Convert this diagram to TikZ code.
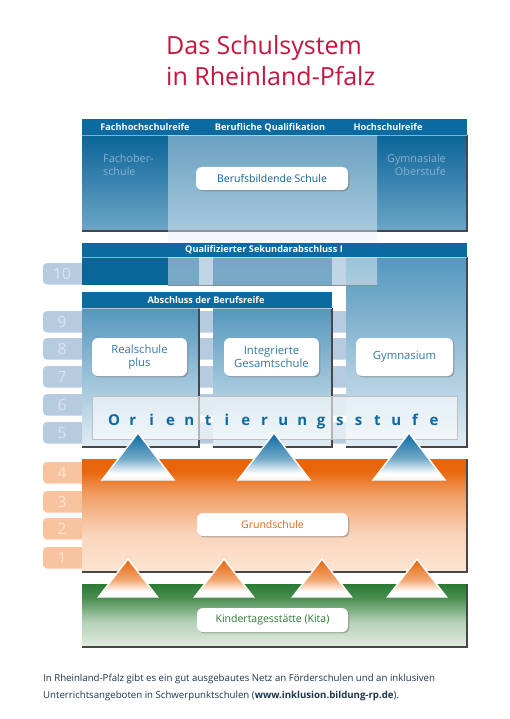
\documentclass[tikz,border=0pt]{standalone}
\usepackage{fontspec}
\setmainfont{Open Sans}
\usetikzlibrary{shadows}
\definecolor{titlered}{HTML}{C4173F}
\definecolor{hdrblue}{HTML}{0B6AA1}
\definecolor{txtblue}{HTML}{0F5F96}
\definecolor{stripeblue}{HTML}{B7CBE0}
\definecolor{numblue}{HTML}{DCE6F0}
\definecolor{stripeor}{HTML}{F8C4A0}
\definecolor{numor}{HTML}{FDE4D2}
\definecolor{tripeach}{HTML}{F9D3B5}
\definecolor{trigreen}{HTML}{E2ECDF}
\definecolor{orangetop}{HTML}{E8650A}
\definecolor{greentop}{HTML}{2A7A33}
\definecolor{pale}{HTML}{8DB0CF}
\definecolor{foot}{HTML}{1C3550}
\definecolor{grtext}{HTML}{E0661A}
\definecolor{kitext}{HTML}{2D7A35}
\pgfdeclareverticalshading{bluetri}{100bp}{color(0bp)=(tripeach); color(25bp)=(tripeach); color(28bp)=(white); color(32bp)=(white); color(48bp)=(hdrblue!58); color(75bp)=(hdrblue); color(100bp)=(hdrblue)}
\pgfdeclareverticalshading{orangetri}{100bp}{color(0bp)=(trigreen); color(25bp)=(trigreen); color(28bp)=(white); color(32bp)=(white); color(48bp)=(orangetop!58); color(75bp)=(orangetop); color(100bp)=(orangetop)}
\pgfdeclareverticalshading{orangeblock}{100bp}{color(0bp)=(white); color(25bp)=(numor); color(42bp)=(orangetop!28); color(60bp)=(orangetop!65); color(70bp)=(orangetop); color(75bp)=(orangetop); color(100bp)=(orangetop)}
\pgfdeclareverticalshading{greenblock}{100bp}{color(0bp)=(trigreen); color(25bp)=(trigreen); color(45bp)=(greentop!35); color(64bp)=(greentop!85); color(75bp)=(greentop); color(100bp)=(greentop)}
\begin{document}
\begin{tikzpicture}[x=1pt,y=-1pt,
  hdr/.style={font=\fontsize{9.2}{10}\selectfont\bfseries, text=white, inner sep=0},
  shadowline/.style={draw=black!72, line width=1.3pt},
  colshade/.style={top color=hdrblue!70!white, bottom color=hdrblue!12!white},
  topshade/.style={top color=hdrblue!95!black, bottom color=hdrblue!60!white},
  wbox/.style={fill=white, rounded corners=6pt, inner sep=0, align=center,
     font=\fontsize{10.5}{12.5}\selectfont,
     drop shadow={shadow xshift=1.3pt, shadow yshift=-1.3pt, opacity=0.5, fill=black!55}},
  bigbox/.style={wbox, font=\fontsize{11.3}{13.5}\selectfont, minimum height=38pt},
  num/.style={font=\fontsize{15.5}{15.5}\selectfont, inner sep=0},
  pale/.style={font=\fontsize{10.8}{13}\selectfont, text=pale, inner sep=0},
  tri/.style={draw=white, line width=1.4pt, line join=miter,
     drop shadow={shadow xshift=1pt, shadow yshift=-1pt, opacity=0.35, fill=black!60}}
]
\useasboundingbox (0,0) rectangle (510,719);
\fill[white] (0,0) rectangle (510,719);

% title
\node[anchor=base west, inner sep=0, text=titlered, font=\fontsize{25}{30}\selectfont] (t1) at (166,55) {Das Schulsystem};
\node[anchor=base west, inner sep=0, text=titlered, font=\fontsize{25}{30}\selectfont] (t2) at (166,86) {in Rheinland-Pfalz};

% blue grade stripes
\foreach \yy/\n in {263/10,311/9,338/8,366/7,394/6,422/5}{
  \fill[stripeblue, rounded corners=4pt] (43,\yy) rectangle (467,\yy+21.5);
  \node[num, text=numblue] (n\n) at (62,\yy+11) {\n};
}
% orange grade stripes
\foreach \yy/\n in {462/4,491/3,518/2,547/1}{
  \fill[stripeor, rounded corners=4pt] (43,\yy) rectangle (100,\yy+21.5);
  \node[num, text=numor] (n\n) at (62,\yy+11) {\n};
}

% upper block
\shade[topshade] (82,135) rectangle (467,231);
\draw[shadowline] (82,231) -- (467,231) -- (467,135);

% row 10 dark blocks
\fill[hdrblue!95!black] (82,257) rectangle (199,285);
\fill[hdrblue!95!black] (213,257) rectangle (332,285);
\fill[stripeblue!80!hdrblue] (199,257) rectangle (213,285);
\fill[stripeblue!80!hdrblue] (332,257) rectangle (346,285);

% columns
\shade[colshade] (82,308) rectangle (199,447);
\draw[shadowline] (82,447) -- (199,447) -- (199,308);
\shade[colshade] (213,308) rectangle (332,447);
\draw[shadowline] (213,447) -- (332,447) -- (332,308);
\shade[colshade] (346,257) rectangle (467,447);
\draw[shadowline] (346,447) -- (467,447) -- (467,257);

% light overlay (Berufsbildende Schule)
\shade[top color=hdrblue!18!white, bottom color=hdrblue!5!white, opacity=0.47] (168,119) rectangle (377,285);
\draw[draw=black!45, line width=1pt] (168,285) -- (377,285);

% bars
\fill[hdrblue] (82,119) rectangle (467,135);
\draw[white, opacity=0.5, line width=0.6pt] (82,135) -- (467,135);
\fill[hdrblue] (82,243) rectangle (467,257);
\draw[white, opacity=0.5, line width=0.6pt] (82,257) -- (467,257);
\fill[hdrblue] (82,292) rectangle (332,308);
\draw[white, opacity=0.5, line width=0.6pt] (82,308) -- (332,308);

\node[hdr] (fhr) at (145,127.5) {Fachhochschulreife};
\node[hdr] (bq) at (270,127.5) {Berufliche Qualifikation};
\node[hdr] (hsr) at (388,127.5) {Hochschulreife};
\node[hdr] (qsa) at (264,250) {Qualifizierter Sekundarabschluss I};
\node[hdr] (abr) at (206,300) {Abschluss der Berufsreife};

\node[pale, anchor=base west, align=left] (fos) at (103,176) {Fachober-\\schule};
\node[pale, anchor=base east, align=right] (gos) at (446,176) {Gymnasiale\\Oberstufe};

% Orientierungsstufe
\path[fill=white, fill opacity=0.6, draw=black!25, line width=0.8pt] (92,396) rectangle (457,439);
\foreach \ch [count=\i from 0] in {O,r,i,e,n,t,i,e,r,u,n,g,s,s,t,u,f,e}{
  \node[anchor=base, inner sep=0, text=hdrblue, font=\fontsize{15}{15}\selectfont\bfseries] (o\i) at ({114+18.82*\i},425) {\ch};
}

% orange and green blocks
\shade[shading=orangeblock] (82,459) rectangle (467,572);
\draw[shadowline] (82,572) -- (467,572) -- (467,459);
\shade[shading=greenblock] (82,584) rectangle (467,647);
\draw[shadowline] (82,647) -- (467,647) -- (467,584);

% triangles
\foreach \c in {138,274,409}{
  \shadedraw[tri, shading=bluetri] (\c,433) -- (\c+36,480) -- (\c-36,480) -- cycle;
}
\foreach \c in {128,224,322,417}{
  \shadedraw[tri, shading=orangetri] (\c,559) -- (\c+29.5,597) -- (\c-29.5,597) -- cycle;
}

% white boxes
\node[wbox, text=txtblue, minimum width=152pt, minimum height=23pt] (bbs) at (272,178.5) {Berufsbildende Schule};
\node[bigbox, text=txtblue!85!white, minimum width=95pt] (rsp) at (139.5,357) {Realschule\\plus};
\node[bigbox, text=txtblue!85!white, minimum width=95pt] (igs) at (271.5,357) {Integrierte\\Gesamtschule};
\node[bigbox, text=txtblue!85!white, minimum width=97pt] (gym) at (404.5,357) {Gymnasium};
\node[wbox, text=grtext, minimum width=151pt, minimum height=23pt] (gs) at (272.5,524.5) {Grundschule};
\node[wbox, text=kitext, minimum width=151pt, minimum height=24pt] (kita) at (272.5,620) {Kindertagesstätte (Kita)};

% footer
\node[anchor=base west, inner sep=0, text=foot, font=\fontsize{9.65}{12}\selectfont] (f1) at (43,681) {In Rheinland-Pfalz gibt es ein gut ausgebautes Netz an Förderschulen und an inklusiven};
\node[anchor=base west, inner sep=0, text=foot, font=\fontsize{9.65}{12}\selectfont] (f2) at (43,698) {Unterrichtsangeboten in Schwerpunktschulen (\textbf{www.inklusion.bildung-rp.de}).};
\end{tikzpicture}
\end{document}
